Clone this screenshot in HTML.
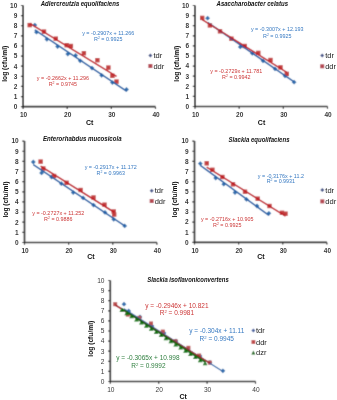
<!DOCTYPE html>
<html><head><meta charset="utf-8"><style>
html,body{margin:0;padding:0;background:#fff;}
body{width:337px;height:400px;overflow:hidden;}
svg{display:block;font-family:"Liberation Sans",sans-serif;}
</style></head><body>
<svg width="337" height="400" viewBox="0 0 337 400">
<defs><filter id="bl" filterUnits="userSpaceOnUse" x="0" y="0" width="337" height="400"><feConvolveMatrix order="3" kernelMatrix="0.0192 0.1001 0.0192 0.1001 0.5228 0.1001 0.0192 0.1001 0.0192" preserveAlpha="true" edgeMode="duplicate"/></filter><filter id="id" filterUnits="userSpaceOnUse" x="0" y="0" width="337" height="400"><feOffset dx="0" dy="0"/></filter></defs>
<rect width="337" height="400" fill="#fff"/>
<g filter="url(#bl)">
<rect width="337" height="400" fill="#fff"/>
<path d="M23.10 5.50V106.70H155.50" fill="none" stroke="#262626" stroke-width="1.7"/>
<path d="M20.90 106.70H23.10M20.90 96.58H23.10M20.90 86.46H23.10M20.90 76.34H23.10M20.90 66.22H23.10M20.90 56.10H23.10M20.90 45.98H23.10M20.90 35.86H23.10M20.90 25.74H23.10M20.90 15.62H23.10M20.90 5.50H23.10M23.10 106.70V108.90M67.23 106.70V108.90M111.37 106.70V108.90M155.50 106.70V108.90" stroke="#262626" stroke-width="1.2" fill="none"/>
<path d="M34.80 22.70L37.20 25.10L34.80 27.50L32.40 25.10Z" fill="#2f6fae"/>
<path d="M36.50 29.80L38.90 32.20L36.50 34.60L34.10 32.20Z" fill="#2f6fae"/>
<path d="M46.90 36.90L49.30 39.30L46.90 41.70L44.50 39.30Z" fill="#2f6fae"/>
<path d="M57.60 44.10L60.00 46.50L57.60 48.90L55.20 46.50Z" fill="#2f6fae"/>
<path d="M67.80 51.60L70.20 54.00L67.80 56.40L65.40 54.00Z" fill="#2f6fae"/>
<path d="M75.60 53.00L78.00 55.40L75.60 57.80L73.20 55.40Z" fill="#2f6fae"/>
<path d="M80.20 58.40L82.60 60.80L80.20 63.20L77.80 60.80Z" fill="#2f6fae"/>
<path d="M92.00 65.70L94.40 68.10L92.00 70.50L89.60 68.10Z" fill="#2f6fae"/>
<path d="M101.60 72.90L104.00 75.30L101.60 77.70L99.20 75.30Z" fill="#2f6fae"/>
<path d="M112.40 80.20L114.80 82.60L112.40 85.00L110.00 82.60Z" fill="#2f6fae"/>
<path d="M126.50 87.10L128.90 89.50L126.50 91.90L124.10 89.50Z" fill="#2f6fae"/>
<rect x="27.50" y="22.90" width="4.40" height="4.40" fill="#c23e3e"/>
<rect x="41.80" y="29.40" width="4.40" height="4.40" fill="#c23e3e"/>
<rect x="53.60" y="36.50" width="4.40" height="4.40" fill="#c23e3e"/>
<rect x="64.50" y="43.00" width="4.40" height="4.40" fill="#c23e3e"/>
<rect x="68.70" y="43.80" width="4.40" height="4.40" fill="#c23e3e"/>
<rect x="81.70" y="51.00" width="4.40" height="4.40" fill="#c23e3e"/>
<rect x="95.20" y="58.00" width="4.40" height="4.40" fill="#c23e3e"/>
<rect x="106.20" y="65.40" width="4.40" height="4.40" fill="#c23e3e"/>
<rect x="110.20" y="73.60" width="4.40" height="4.40" fill="#c23e3e"/>
<rect x="114.30" y="79.40" width="4.40" height="4.40" fill="#c23e3e"/>
<line x1="34.80" y1="29.91" x2="126.50" y2="91.03" stroke="#1c5ea6" stroke-width="1.5"/>
<line x1="29.70" y1="23.35" x2="116.50" y2="76.34" stroke="#c01822" stroke-width="1.5"/>
<path d="M150.40 53.60L152.40 55.60L150.40 57.60L148.40 55.60Z" fill="#46568a"/>
<rect x="148.40" y="64.00" width="4.00" height="4.00" fill="#b44450"/>
<path d="M195.00 5.50V106.50H327.50" fill="none" stroke="#262626" stroke-width="1.7"/>
<path d="M192.80 106.50H195.00M192.80 96.40H195.00M192.80 86.30H195.00M192.80 76.20H195.00M192.80 66.10H195.00M192.80 56.00H195.00M192.80 45.90H195.00M192.80 35.80H195.00M192.80 25.70H195.00M192.80 15.60H195.00M192.80 5.50H195.00M195.00 106.50V108.70M239.17 106.50V108.70M283.33 106.50V108.70M327.50 106.50V108.70" stroke="#262626" stroke-width="1.2" fill="none"/>
<path d="M207.60 15.80L210.00 18.20L207.60 20.60L205.20 18.20Z" fill="#2f6fae"/>
<path d="M240.30 44.50L242.70 46.90L240.30 49.30L237.90 46.90Z" fill="#2f6fae"/>
<path d="M252.30 50.90L254.70 53.30L252.30 55.70L249.90 53.30Z" fill="#2f6fae"/>
<path d="M263.00 58.40L265.40 60.80L263.00 63.20L260.60 60.80Z" fill="#2f6fae"/>
<path d="M275.00 66.40L277.40 68.80L275.00 71.20L272.60 68.80Z" fill="#2f6fae"/>
<path d="M285.00 73.40L287.40 75.80L285.00 78.20L282.60 75.80Z" fill="#2f6fae"/>
<path d="M294.10 79.80L296.50 82.20L294.10 84.60L291.70 82.20Z" fill="#2f6fae"/>
<rect x="200.00" y="15.70" width="4.40" height="4.40" fill="#c23e3e"/>
<rect x="207.70" y="23.20" width="4.40" height="4.40" fill="#c23e3e"/>
<rect x="217.80" y="29.10" width="4.40" height="4.40" fill="#c23e3e"/>
<rect x="229.20" y="36.50" width="4.40" height="4.40" fill="#c23e3e"/>
<rect x="242.50" y="43.80" width="4.40" height="4.40" fill="#c23e3e"/>
<rect x="256.10" y="50.70" width="4.40" height="4.40" fill="#c23e3e"/>
<rect x="268.30" y="57.80" width="4.40" height="4.40" fill="#c23e3e"/>
<rect x="278.30" y="65.20" width="4.40" height="4.40" fill="#c23e3e"/>
<rect x="284.60" y="71.70" width="4.40" height="4.40" fill="#c23e3e"/>
<line x1="207.60" y1="22.39" x2="294.10" y2="81.87" stroke="#1c5ea6" stroke-width="1.5"/>
<line x1="202.20" y1="19.57" x2="286.80" y2="72.36" stroke="#c01822" stroke-width="1.5"/>
<path d="M322.20 53.40L324.20 55.40L322.20 57.40L320.20 55.40Z" fill="#46568a"/>
<rect x="320.20" y="64.30" width="4.00" height="4.00" fill="#b44450"/>
<path d="M24.50 141.10V242.50H156.90" fill="none" stroke="#262626" stroke-width="1.7"/>
<path d="M22.30 242.50H24.50M22.30 232.36H24.50M22.30 222.22H24.50M22.30 212.08H24.50M22.30 201.94H24.50M22.30 191.80H24.50M22.30 181.66H24.50M22.30 171.52H24.50M22.30 161.38H24.50M22.30 151.24H24.50M22.30 141.10H24.50M24.50 242.50V244.70M68.63 242.50V244.70M112.77 242.50V244.70M156.90 242.50V244.70" stroke="#262626" stroke-width="1.2" fill="none"/>
<path d="M33.30 159.60L35.70 162.00L33.30 164.40L30.90 162.00Z" fill="#2f6fae"/>
<path d="M41.60 170.50L44.00 172.90L41.60 175.30L39.20 172.90Z" fill="#2f6fae"/>
<path d="M51.60 174.60L54.00 177.00L51.60 179.40L49.20 177.00Z" fill="#2f6fae"/>
<path d="M61.40 181.30L63.80 183.70L61.40 186.10L59.00 183.70Z" fill="#2f6fae"/>
<path d="M73.20 190.20L75.60 192.60L73.20 195.00L70.80 192.60Z" fill="#2f6fae"/>
<path d="M83.10 195.50L85.50 197.90L83.10 200.30L80.70 197.90Z" fill="#2f6fae"/>
<path d="M93.50 202.70L95.90 205.10L93.50 207.50L91.10 205.10Z" fill="#2f6fae"/>
<path d="M105.00 210.00L107.40 212.40L105.00 214.80L102.60 212.40Z" fill="#2f6fae"/>
<path d="M113.70 216.90L116.10 219.30L113.70 221.70L111.30 219.30Z" fill="#2f6fae"/>
<path d="M124.70 223.50L127.10 225.90L124.70 228.30L122.30 225.90Z" fill="#2f6fae"/>
<rect x="38.40" y="159.40" width="4.40" height="4.40" fill="#c23e3e"/>
<rect x="41.10" y="166.30" width="4.40" height="4.40" fill="#c23e3e"/>
<rect x="51.90" y="173.80" width="4.40" height="4.40" fill="#c23e3e"/>
<rect x="64.40" y="180.60" width="4.40" height="4.40" fill="#c23e3e"/>
<rect x="78.40" y="187.80" width="4.40" height="4.40" fill="#c23e3e"/>
<rect x="91.30" y="195.30" width="4.40" height="4.40" fill="#c23e3e"/>
<rect x="102.30" y="202.50" width="4.40" height="4.40" fill="#c23e3e"/>
<rect x="111.50" y="209.30" width="4.40" height="4.40" fill="#c23e3e"/>
<rect x="112.00" y="212.30" width="4.40" height="4.40" fill="#c23e3e"/>
<line x1="33.30" y1="164.69" x2="124.70" y2="225.95" stroke="#1c5ea6" stroke-width="1.5"/>
<line x1="40.60" y1="166.14" x2="114.20" y2="212.26" stroke="#c01822" stroke-width="1.5"/>
<path d="M151.70 188.80L153.70 190.80L151.70 192.80L149.70 190.80Z" fill="#46568a"/>
<rect x="149.70" y="199.00" width="4.00" height="4.00" fill="#b44450"/>
<path d="M194.50 141.10V242.40H326.90" fill="none" stroke="#262626" stroke-width="1.7"/>
<path d="M192.30 242.40H194.50M192.30 232.27H194.50M192.30 222.14H194.50M192.30 212.01H194.50M192.30 201.88H194.50M192.30 191.75H194.50M192.30 181.62H194.50M192.30 171.49H194.50M192.30 161.36H194.50M192.30 151.23H194.50M192.30 141.10H194.50M194.50 242.40V244.60M238.63 242.40V244.60M282.77 242.40V244.60M326.90 242.40V244.60" stroke="#262626" stroke-width="1.2" fill="none"/>
<path d="M200.30 161.20L202.70 163.60L200.30 166.00L197.90 163.60Z" fill="#2f6fae"/>
<path d="M215.70 175.60L218.10 178.00L215.70 180.40L213.30 178.00Z" fill="#2f6fae"/>
<path d="M223.80 181.80L226.20 184.20L223.80 186.60L221.40 184.20Z" fill="#2f6fae"/>
<path d="M235.00 190.20L237.40 192.60L235.00 195.00L232.60 192.60Z" fill="#2f6fae"/>
<path d="M246.50 197.00L248.90 199.40L246.50 201.80L244.10 199.40Z" fill="#2f6fae"/>
<path d="M257.00 203.60L259.40 206.00L257.00 208.40L254.60 206.00Z" fill="#2f6fae"/>
<path d="M268.90 210.90L271.30 213.30L268.90 215.70L266.50 213.30Z" fill="#2f6fae"/>
<rect x="204.50" y="161.10" width="4.40" height="4.40" fill="#c23e3e"/>
<rect x="210.20" y="167.60" width="4.40" height="4.40" fill="#c23e3e"/>
<rect x="220.20" y="174.80" width="4.40" height="4.40" fill="#c23e3e"/>
<rect x="230.80" y="182.10" width="4.40" height="4.40" fill="#c23e3e"/>
<rect x="242.80" y="189.50" width="4.40" height="4.40" fill="#c23e3e"/>
<rect x="255.50" y="196.50" width="4.40" height="4.40" fill="#c23e3e"/>
<rect x="267.30" y="203.80" width="4.40" height="4.40" fill="#c23e3e"/>
<rect x="279.80" y="210.60" width="4.40" height="4.40" fill="#c23e3e"/>
<rect x="283.30" y="211.50" width="4.40" height="4.40" fill="#c23e3e"/>
<line x1="200.30" y1="165.35" x2="268.90" y2="215.35" stroke="#1c5ea6" stroke-width="1.5"/>
<line x1="206.70" y1="167.05" x2="285.50" y2="216.18" stroke="#c01822" stroke-width="1.5"/>
<path d="M322.30 188.00L324.30 190.00L322.30 192.00L320.30 190.00Z" fill="#46568a"/>
<rect x="320.30" y="199.40" width="4.00" height="4.00" fill="#b44450"/>
<path d="M110.30 280.50V381.50H255.50" fill="none" stroke="#262626" stroke-width="1.7"/>
<path d="M108.10 381.50H110.30M108.10 371.40H110.30M108.10 361.30H110.30M108.10 351.20H110.30M108.10 341.10H110.30M108.10 331.00H110.30M108.10 320.90H110.30M108.10 310.80H110.30M108.10 300.70H110.30M108.10 290.60H110.30M108.10 280.50H110.30M110.30 381.50V383.70M158.70 381.50V383.70M207.10 381.50V383.70M255.50 381.50V383.70" stroke="#262626" stroke-width="1.2" fill="none"/>
<path d="M124.00 301.80L126.40 304.20L124.00 306.60L121.60 304.20Z" fill="#2f6fae"/>
<path d="M128.70 308.60L131.10 311.00L128.70 313.40L126.30 311.00Z" fill="#2f6fae"/>
<path d="M140.00 314.60L142.40 317.00L140.00 319.40L137.60 317.00Z" fill="#2f6fae"/>
<path d="M152.00 323.60L154.40 326.00L152.00 328.40L149.60 326.00Z" fill="#2f6fae"/>
<path d="M164.00 330.60L166.40 333.00L164.00 335.40L161.60 333.00Z" fill="#2f6fae"/>
<path d="M176.00 338.60L178.40 341.00L176.00 343.40L173.60 341.00Z" fill="#2f6fae"/>
<path d="M188.00 346.60L190.40 349.00L188.00 351.40L185.60 349.00Z" fill="#2f6fae"/>
<path d="M200.00 353.60L202.40 356.00L200.00 358.40L197.60 356.00Z" fill="#2f6fae"/>
<path d="M210.00 360.10L212.40 362.50L210.00 364.90L207.60 362.50Z" fill="#2f6fae"/>
<path d="M222.90 368.40L225.30 370.80L222.90 373.20L220.50 370.80Z" fill="#2f6fae"/>
<rect x="113.20" y="302.20" width="4.00" height="4.00" fill="#bb5050"/>
<rect x="125.80" y="312.60" width="4.00" height="4.00" fill="#bb5050"/>
<rect x="137.40" y="315.80" width="4.00" height="4.00" fill="#bb5050"/>
<rect x="149.00" y="321.50" width="4.00" height="4.00" fill="#bb5050"/>
<rect x="160.80" y="329.60" width="4.00" height="4.00" fill="#bb5050"/>
<rect x="173.50" y="339.20" width="4.00" height="4.00" fill="#bb5050"/>
<rect x="186.40" y="345.80" width="4.00" height="4.00" fill="#bb5050"/>
<rect x="197.10" y="353.60" width="4.00" height="4.00" fill="#bb5050"/>
<rect x="207.80" y="360.60" width="4.00" height="4.00" fill="#bb5050"/>
<line x1="124.00" y1="308.68" x2="222.90" y2="371.42" stroke="#2a68ac" stroke-width="1.2"/>
<line x1="115.20" y1="304.97" x2="209.80" y2="363.13" stroke="#a81822" stroke-width="1.7"/>
<path d="M121.80 307.56L124.10 312.00L119.50 312.00Z" fill="#0e780e"/>
<path d="M126.70 310.70L129.00 315.14L124.40 315.14Z" fill="#0e780e"/>
<path d="M131.60 313.83L133.90 318.27L129.30 318.27Z" fill="#0e780e"/>
<path d="M136.50 316.96L138.80 321.40L134.20 321.40Z" fill="#0e780e"/>
<path d="M141.40 320.10L143.70 324.54L139.10 324.54Z" fill="#0e780e"/>
<path d="M146.30 323.23L148.60 327.67L144.00 327.67Z" fill="#0e780e"/>
<path d="M151.20 326.37L153.50 330.81L148.90 330.81Z" fill="#0e780e"/>
<path d="M156.10 329.50L158.40 333.94L153.80 333.94Z" fill="#0e780e"/>
<path d="M161.00 332.63L163.30 337.07L158.70 337.07Z" fill="#0e780e"/>
<path d="M165.90 335.77L168.20 340.21L163.60 340.21Z" fill="#0e780e"/>
<path d="M170.80 338.90L173.10 343.34L168.50 343.34Z" fill="#0e780e"/>
<path d="M175.70 342.04L178.00 346.48L173.40 346.48Z" fill="#0e780e"/>
<path d="M180.60 345.17L182.90 349.61L178.30 349.61Z" fill="#0e780e"/>
<path d="M185.50 348.30L187.80 352.74L183.20 352.74Z" fill="#0e780e"/>
<path d="M190.40 351.44L192.70 355.88L188.10 355.88Z" fill="#0e780e"/>
<path d="M195.30 354.57L197.60 359.01L193.00 359.01Z" fill="#0e780e"/>
<path d="M200.20 357.71L202.50 362.15L197.90 362.15Z" fill="#0e780e"/>
<path d="M205.10 360.84L207.40 365.28L202.80 365.28Z" fill="#0e780e"/>
<line x1="121.80" y1="308.73" x2="205.10" y2="362.01" stroke="#0f640f" stroke-width="1.9"/>
<path d="M253.40 328.40L255.40 330.40L253.40 332.40L251.40 330.40Z" fill="#4a62a0"/>
<rect x="251.50" y="340.10" width="3.80" height="3.80" fill="#c04848"/>
<path d="M253.40 350.50L255.40 354.40L251.40 354.40Z" fill="#1a6a1a"/>
</g>
<g filter="url(#id)">
<text x="80.00" y="5.80" text-anchor="middle" font-size="6.6" font-weight="bold" font-style="italic" fill="#111" textLength="78.5" lengthAdjust="spacingAndGlyphs">Adlercreutzia equolifaciens</text>
<text x="17.30" y="109.00" text-anchor="end" font-size="6.5" font-weight="bold" fill="#3a3a3a">0</text>
<text x="17.30" y="98.88" text-anchor="end" font-size="6.5" font-weight="bold" fill="#3a3a3a">1</text>
<text x="17.30" y="88.76" text-anchor="end" font-size="6.5" font-weight="bold" fill="#3a3a3a">2</text>
<text x="17.30" y="78.64" text-anchor="end" font-size="6.5" font-weight="bold" fill="#3a3a3a">3</text>
<text x="17.30" y="68.52" text-anchor="end" font-size="6.5" font-weight="bold" fill="#3a3a3a">4</text>
<text x="17.30" y="58.40" text-anchor="end" font-size="6.5" font-weight="bold" fill="#3a3a3a">5</text>
<text x="17.30" y="48.28" text-anchor="end" font-size="6.5" font-weight="bold" fill="#3a3a3a">6</text>
<text x="17.30" y="38.16" text-anchor="end" font-size="6.5" font-weight="bold" fill="#3a3a3a">7</text>
<text x="17.30" y="28.04" text-anchor="end" font-size="6.5" font-weight="bold" fill="#3a3a3a">8</text>
<text x="17.30" y="17.92" text-anchor="end" font-size="6.5" font-weight="bold" fill="#3a3a3a">9</text>
<text x="17.30" y="7.80" text-anchor="end" font-size="6.5" font-weight="bold" fill="#3a3a3a">10</text>
<text x="23.60" y="117.20" text-anchor="middle" font-size="6.5" font-weight="bold" fill="#3a3a3a">10</text>
<text x="67.73" y="117.20" text-anchor="middle" font-size="6.5" font-weight="bold" fill="#3a3a3a">20</text>
<text x="111.87" y="117.20" text-anchor="middle" font-size="6.5" font-weight="bold" fill="#3a3a3a">30</text>
<text x="156.00" y="117.20" text-anchor="middle" font-size="6.5" font-weight="bold" fill="#3a3a3a">40</text>
<text x="89.60" y="124.70" text-anchor="middle" font-size="7" font-weight="bold" fill="#111">Ct</text>
<text transform="translate(6.80 63.80) rotate(-90)" text-anchor="middle" font-size="6.7" font-weight="bold" fill="#111">log (cfu/ml)</text>
<text x="108.20" y="34.80" text-anchor="middle" font-size="6.0" fill="#3679c2" textLength="52.14" lengthAdjust="spacingAndGlyphs">y = -0.2907x + 11.266</text>
<text x="108.20" y="41.40" text-anchor="middle" font-size="6.0" fill="#3679c2" textLength="28.37" lengthAdjust="spacingAndGlyphs">R<tspan font-size="65%" baseline-shift="super">2</tspan> = 0.9925</text>
<text x="62.90" y="80.05" text-anchor="middle" font-size="6.0" fill="#cc3636" textLength="52.14" lengthAdjust="spacingAndGlyphs">y = -0.2662x + 11.296</text>
<text x="62.90" y="85.85" text-anchor="middle" font-size="6.0" fill="#cc3636" textLength="28.37" lengthAdjust="spacingAndGlyphs">R<tspan font-size="65%" baseline-shift="super">2</tspan> = 0.9745</text>
<text x="153.40" y="58.20" font-size="7.5" fill="#222">tdr</text>
<text x="153.40" y="68.60" font-size="7.5" fill="#222">ddr</text>
<text x="252.30" y="5.80" text-anchor="middle" font-size="6.6" font-weight="bold" font-style="italic" fill="#111" textLength="71.5" lengthAdjust="spacingAndGlyphs">Asaccharobacter celatus</text>
<text x="189.20" y="108.80" text-anchor="end" font-size="6.5" font-weight="bold" fill="#3a3a3a">0</text>
<text x="189.20" y="98.70" text-anchor="end" font-size="6.5" font-weight="bold" fill="#3a3a3a">1</text>
<text x="189.20" y="88.60" text-anchor="end" font-size="6.5" font-weight="bold" fill="#3a3a3a">2</text>
<text x="189.20" y="78.50" text-anchor="end" font-size="6.5" font-weight="bold" fill="#3a3a3a">3</text>
<text x="189.20" y="68.40" text-anchor="end" font-size="6.5" font-weight="bold" fill="#3a3a3a">4</text>
<text x="189.20" y="58.30" text-anchor="end" font-size="6.5" font-weight="bold" fill="#3a3a3a">5</text>
<text x="189.20" y="48.20" text-anchor="end" font-size="6.5" font-weight="bold" fill="#3a3a3a">6</text>
<text x="189.20" y="38.10" text-anchor="end" font-size="6.5" font-weight="bold" fill="#3a3a3a">7</text>
<text x="189.20" y="28.00" text-anchor="end" font-size="6.5" font-weight="bold" fill="#3a3a3a">8</text>
<text x="189.20" y="17.90" text-anchor="end" font-size="6.5" font-weight="bold" fill="#3a3a3a">9</text>
<text x="189.20" y="7.80" text-anchor="end" font-size="6.5" font-weight="bold" fill="#3a3a3a">10</text>
<text x="195.50" y="117.00" text-anchor="middle" font-size="6.5" font-weight="bold" fill="#3a3a3a">10</text>
<text x="239.67" y="117.00" text-anchor="middle" font-size="6.5" font-weight="bold" fill="#3a3a3a">20</text>
<text x="283.83" y="117.00" text-anchor="middle" font-size="6.5" font-weight="bold" fill="#3a3a3a">30</text>
<text x="328.00" y="117.00" text-anchor="middle" font-size="6.5" font-weight="bold" fill="#3a3a3a">40</text>
<text x="261.55" y="124.50" text-anchor="middle" font-size="7" font-weight="bold" fill="#111">Ct</text>
<text transform="translate(178.80 63.70) rotate(-90)" text-anchor="middle" font-size="6.7" font-weight="bold" fill="#111">log (cfu/ml)</text>
<text x="277.20" y="31.30" text-anchor="middle" font-size="6.0" fill="#3679c2" textLength="52.54" lengthAdjust="spacingAndGlyphs">y = -0.3007x + 12.193</text>
<text x="277.20" y="37.75" text-anchor="middle" font-size="6.0" fill="#3679c2" textLength="28.37" lengthAdjust="spacingAndGlyphs">R<tspan font-size="65%" baseline-shift="super">2</tspan> = 0.9925</text>
<text x="236.30" y="72.50" text-anchor="middle" font-size="6.0" fill="#cc3636" textLength="52.14" lengthAdjust="spacingAndGlyphs">y = -0.2729x + 11.781</text>
<text x="236.30" y="78.50" text-anchor="middle" font-size="6.0" fill="#cc3636" textLength="28.37" lengthAdjust="spacingAndGlyphs">R<tspan font-size="65%" baseline-shift="super">2</tspan> = 0.9942</text>
<text x="325.20" y="58.00" font-size="7.5" fill="#222">tdr</text>
<text x="325.20" y="68.90" font-size="7.5" fill="#222">ddr</text>
<text x="82.30" y="140.70" text-anchor="middle" font-size="6.6" font-weight="bold" font-style="italic" fill="#111" textLength="78.5" lengthAdjust="spacingAndGlyphs">Enterorhabdus mucosicola</text>
<text x="18.70" y="244.80" text-anchor="end" font-size="6.5" font-weight="bold" fill="#3a3a3a">0</text>
<text x="18.70" y="234.66" text-anchor="end" font-size="6.5" font-weight="bold" fill="#3a3a3a">1</text>
<text x="18.70" y="224.52" text-anchor="end" font-size="6.5" font-weight="bold" fill="#3a3a3a">2</text>
<text x="18.70" y="214.38" text-anchor="end" font-size="6.5" font-weight="bold" fill="#3a3a3a">3</text>
<text x="18.70" y="204.24" text-anchor="end" font-size="6.5" font-weight="bold" fill="#3a3a3a">4</text>
<text x="18.70" y="194.10" text-anchor="end" font-size="6.5" font-weight="bold" fill="#3a3a3a">5</text>
<text x="18.70" y="183.96" text-anchor="end" font-size="6.5" font-weight="bold" fill="#3a3a3a">6</text>
<text x="18.70" y="173.82" text-anchor="end" font-size="6.5" font-weight="bold" fill="#3a3a3a">7</text>
<text x="18.70" y="163.68" text-anchor="end" font-size="6.5" font-weight="bold" fill="#3a3a3a">8</text>
<text x="18.70" y="153.54" text-anchor="end" font-size="6.5" font-weight="bold" fill="#3a3a3a">9</text>
<text x="18.70" y="143.40" text-anchor="end" font-size="6.5" font-weight="bold" fill="#3a3a3a">10</text>
<text x="25.00" y="253.00" text-anchor="middle" font-size="6.5" font-weight="bold" fill="#3a3a3a">10</text>
<text x="69.13" y="253.00" text-anchor="middle" font-size="6.5" font-weight="bold" fill="#3a3a3a">20</text>
<text x="113.27" y="253.00" text-anchor="middle" font-size="6.5" font-weight="bold" fill="#3a3a3a">30</text>
<text x="157.40" y="253.00" text-anchor="middle" font-size="6.5" font-weight="bold" fill="#3a3a3a">40</text>
<text x="91.00" y="259.40" text-anchor="middle" font-size="7" font-weight="bold" fill="#111">Ct</text>
<text transform="translate(8.20 199.50) rotate(-90)" text-anchor="middle" font-size="6.7" font-weight="bold" fill="#111">log (cfu/ml)</text>
<text x="110.70" y="169.30" text-anchor="middle" font-size="6.0" fill="#3679c2" textLength="52.14" lengthAdjust="spacingAndGlyphs">y = -0.2917x + 11.172</text>
<text x="110.70" y="175.40" text-anchor="middle" font-size="6.0" fill="#3679c2" textLength="28.37" lengthAdjust="spacingAndGlyphs">R<tspan font-size="65%" baseline-shift="super">2</tspan> = 0.9963</text>
<text x="58.30" y="214.60" text-anchor="middle" font-size="6.0" fill="#cc3636" textLength="52.14" lengthAdjust="spacingAndGlyphs">y = -0.2727x + 11.252</text>
<text x="58.30" y="220.60" text-anchor="middle" font-size="6.0" fill="#cc3636" textLength="28.37" lengthAdjust="spacingAndGlyphs">R<tspan font-size="65%" baseline-shift="super">2</tspan> = 0.9886</text>
<text x="154.70" y="193.40" font-size="7.5" fill="#222">tdr</text>
<text x="154.70" y="203.60" font-size="7.5" fill="#222">ddr</text>
<text x="259.00" y="142.00" text-anchor="middle" font-size="6.6" font-weight="bold" font-style="italic" fill="#111" textLength="61" lengthAdjust="spacingAndGlyphs">Slackia equolifaciens</text>
<text x="188.70" y="244.70" text-anchor="end" font-size="6.5" font-weight="bold" fill="#3a3a3a">0</text>
<text x="188.70" y="234.57" text-anchor="end" font-size="6.5" font-weight="bold" fill="#3a3a3a">1</text>
<text x="188.70" y="224.44" text-anchor="end" font-size="6.5" font-weight="bold" fill="#3a3a3a">2</text>
<text x="188.70" y="214.31" text-anchor="end" font-size="6.5" font-weight="bold" fill="#3a3a3a">3</text>
<text x="188.70" y="204.18" text-anchor="end" font-size="6.5" font-weight="bold" fill="#3a3a3a">4</text>
<text x="188.70" y="194.05" text-anchor="end" font-size="6.5" font-weight="bold" fill="#3a3a3a">5</text>
<text x="188.70" y="183.92" text-anchor="end" font-size="6.5" font-weight="bold" fill="#3a3a3a">6</text>
<text x="188.70" y="173.79" text-anchor="end" font-size="6.5" font-weight="bold" fill="#3a3a3a">7</text>
<text x="188.70" y="163.66" text-anchor="end" font-size="6.5" font-weight="bold" fill="#3a3a3a">8</text>
<text x="188.70" y="153.53" text-anchor="end" font-size="6.5" font-weight="bold" fill="#3a3a3a">9</text>
<text x="188.70" y="143.40" text-anchor="end" font-size="6.5" font-weight="bold" fill="#3a3a3a">10</text>
<text x="195.00" y="252.90" text-anchor="middle" font-size="6.5" font-weight="bold" fill="#3a3a3a">10</text>
<text x="239.13" y="252.90" text-anchor="middle" font-size="6.5" font-weight="bold" fill="#3a3a3a">20</text>
<text x="283.27" y="252.90" text-anchor="middle" font-size="6.5" font-weight="bold" fill="#3a3a3a">30</text>
<text x="327.40" y="252.90" text-anchor="middle" font-size="6.5" font-weight="bold" fill="#3a3a3a">40</text>
<text x="261.00" y="259.30" text-anchor="middle" font-size="7" font-weight="bold" fill="#111">Ct</text>
<text transform="translate(177.20 199.45) rotate(-90)" text-anchor="middle" font-size="6.7" font-weight="bold" fill="#111">log (cfu/ml)</text>
<text x="280.90" y="177.50" text-anchor="middle" font-size="6.0" fill="#3679c2" textLength="46.13" lengthAdjust="spacingAndGlyphs">y = -0.3176x + 11.2</text>
<text x="280.90" y="183.15" text-anchor="middle" font-size="6.0" fill="#3679c2" textLength="28.37" lengthAdjust="spacingAndGlyphs">R<tspan font-size="65%" baseline-shift="super">2</tspan> = 0.9931</text>
<text x="227.20" y="220.60" text-anchor="middle" font-size="6.0" fill="#cc3636" textLength="52.54" lengthAdjust="spacingAndGlyphs">y = -0.2716x + 10.905</text>
<text x="227.20" y="226.60" text-anchor="middle" font-size="6.0" fill="#cc3636" textLength="28.37" lengthAdjust="spacingAndGlyphs">R<tspan font-size="65%" baseline-shift="super">2</tspan> = 0.9925</text>
<text x="325.30" y="192.60" font-size="7.5" fill="#222">tdr</text>
<text x="325.30" y="204.00" font-size="7.5" fill="#222">ddr</text>
<text x="188.00" y="281.90" text-anchor="middle" font-size="6.6" font-weight="bold" font-style="italic" fill="#111" textLength="81.5" lengthAdjust="spacingAndGlyphs">Slackia isoflavoniconvertens</text>
<text x="104.50" y="383.80" text-anchor="end" font-size="6.6" font-weight="normal" fill="#3a3a3a">0</text>
<text x="104.50" y="373.70" text-anchor="end" font-size="6.6" font-weight="normal" fill="#3a3a3a">1</text>
<text x="104.50" y="363.60" text-anchor="end" font-size="6.6" font-weight="normal" fill="#3a3a3a">2</text>
<text x="104.50" y="353.50" text-anchor="end" font-size="6.6" font-weight="normal" fill="#3a3a3a">3</text>
<text x="104.50" y="343.40" text-anchor="end" font-size="6.6" font-weight="normal" fill="#3a3a3a">4</text>
<text x="104.50" y="333.30" text-anchor="end" font-size="6.6" font-weight="normal" fill="#3a3a3a">5</text>
<text x="104.50" y="323.20" text-anchor="end" font-size="6.6" font-weight="normal" fill="#3a3a3a">6</text>
<text x="104.50" y="313.10" text-anchor="end" font-size="6.6" font-weight="normal" fill="#3a3a3a">7</text>
<text x="104.50" y="303.00" text-anchor="end" font-size="6.6" font-weight="normal" fill="#3a3a3a">8</text>
<text x="104.50" y="292.90" text-anchor="end" font-size="6.6" font-weight="normal" fill="#3a3a3a">9</text>
<text x="104.50" y="282.80" text-anchor="end" font-size="6.6" font-weight="normal" fill="#3a3a3a">10</text>
<text x="110.80" y="392.00" text-anchor="middle" font-size="6.6" font-weight="normal" fill="#3a3a3a">10</text>
<text x="159.20" y="392.00" text-anchor="middle" font-size="6.6" font-weight="normal" fill="#3a3a3a">20</text>
<text x="207.60" y="392.00" text-anchor="middle" font-size="6.6" font-weight="normal" fill="#3a3a3a">30</text>
<text x="256.00" y="392.00" text-anchor="middle" font-size="6.6" font-weight="normal" fill="#3a3a3a">40</text>
<text x="183.20" y="398.80" text-anchor="middle" font-size="7" font-weight="bold" fill="#111">Ct</text>
<text transform="translate(92.80 338.70) rotate(-90)" text-anchor="middle" font-size="6.7" font-weight="bold" fill="#111">log (cfu/ml)</text>
<text x="176.9" y="307.9" text-anchor="middle" font-size="6.5" fill="#cc3636">y = -0.2946x + 10.821</text>
<text x="176.9" y="315.1" text-anchor="middle" font-size="6.5" fill="#cc3636">R<tspan font-size="65%" baseline-shift="super">2</tspan> = 0.9981</text>
<text x="216.8" y="333.4" text-anchor="middle" font-size="6.5" fill="#3679c2">y = -0.304x + 11.11</text>
<text x="216.8" y="341.1" text-anchor="middle" font-size="6.5" fill="#3679c2">R<tspan font-size="65%" baseline-shift="super">2</tspan> = 0.9945</text>
<text x="147.9" y="360.2" text-anchor="middle" font-size="6.5" fill="#2f7f3f">y = -0.3065x + 10.998</text>
<text x="148.4" y="367.7" text-anchor="middle" font-size="6.5" fill="#2f7f3f">R<tspan font-size="65%" baseline-shift="super">2</tspan> = 0.9992</text>
<text x="256" y="333.0" font-size="7.5" fill="#222">tdr</text>
<text x="256" y="344.6" font-size="7.5" fill="#222">ddr</text>
<text x="256" y="355.2" font-size="7.5" fill="#222">dzr</text>
</g>
</svg>
</body></html>
